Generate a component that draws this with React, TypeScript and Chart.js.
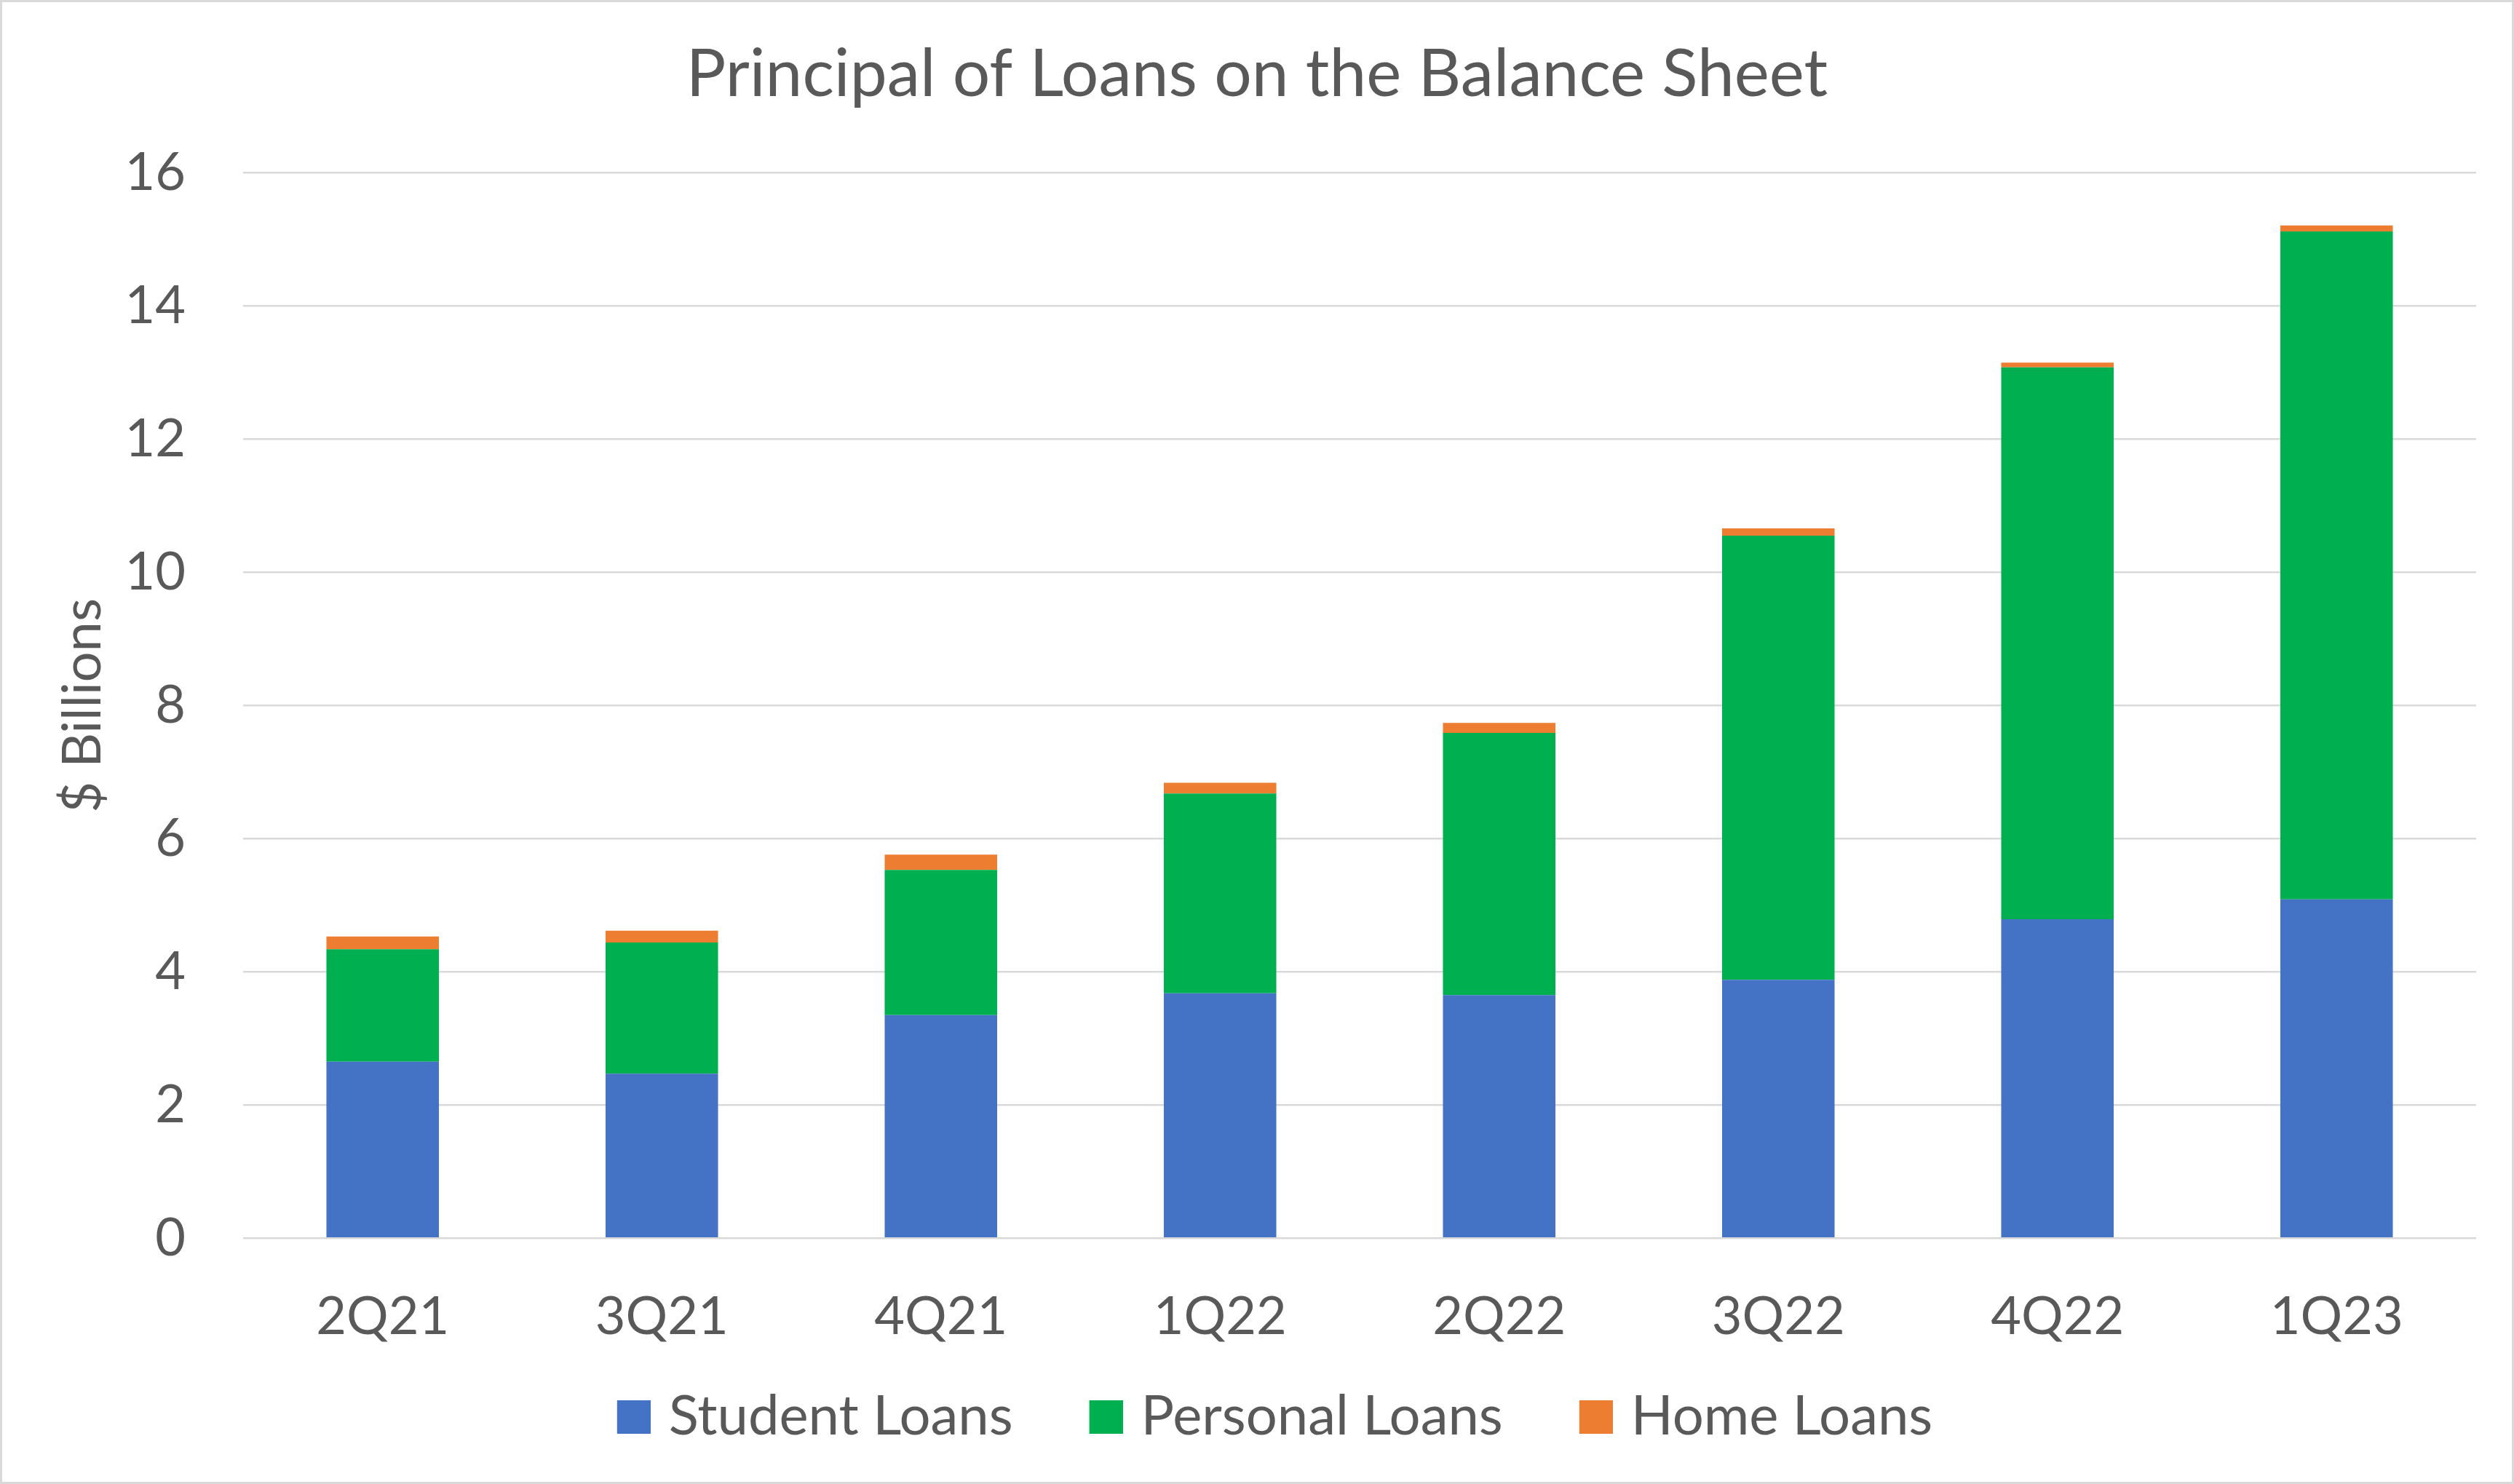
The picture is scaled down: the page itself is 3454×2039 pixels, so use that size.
import React, { useEffect, useRef } from "react";
import { Chart, registerables } from "chart.js";

Chart.register(...registerables);

const categories = ["2Q21", "3Q21", "4Q21", "1Q22", "2Q22", "3Q22", "4Q22", "1Q23"];
const studentLoans = [2.65, 2.47, 3.35, 3.68, 3.65, 3.88, 4.79, 5.09];
const personalLoans = [1.69, 1.97, 2.18, 3.0, 3.94, 6.67, 8.29, 10.03];
const homeLoans = [0.19, 0.18, 0.23, 0.16, 0.15, 0.11, 0.07, 0.09];
const yTicks = [0, 2, 4, 6, 8, 10, 12, 14, 16];
const seriesColors = ["#4472C4", "#00B050", "#ED7D31"];

const W = 3454;
const H = 2039;
const TEXT = "#595959";
const FONT = "Lato, 'Open Sans', sans-serif";

// legend swatch: square placed at the right of a transparent strip so spacing matches
function makeSwatch(color: string): HTMLCanvasElement {
  const c = document.createElement("canvas");
  c.width = 108;
  c.height = 46;
  const ctx = c.getContext("2d")!;
  ctx.fillStyle = color;
  ctx.fillRect(62, 0, 46, 46);
  return c;
}

export default function App() {
  const ref = useRef<HTMLCanvasElement | null>(null);

  useEffect(() => {
    if (!ref.current) return;
    const swatches = seriesColors.map(makeSwatch);
    const chart = new Chart(ref.current, {
      type: "bar",
      data: {
        labels: categories,
        datasets: [
          { label: "Student Loans", data: studentLoans, backgroundColor: seriesColors[0] },
          { label: "Personal Loans", data: personalLoans, backgroundColor: seriesColors[1] },
          { label: "Home Loans", data: homeLoans, backgroundColor: seriesColors[2] },
        ],
      },
      options: {
        animation: false,
        responsive: true,
        maintainAspectRatio: false,
        devicePixelRatio: 1,
        layout: { padding: { left: 0, right: 0, top: 0, bottom: 44.5 } },
        datasets: {
          bar: { barPercentage: 0.403, categoryPercentage: 1 },
        },
        plugins: {
          title: {
            display: true,
            text: "Principal of Loans on the Balance Sheet",
            color: TEXT,
            font: { family: FONT, size: 91, weight: "normal", lineHeight: 1.2 },
            padding: { top: 48, bottom: 80.3 },
          },
          legend: {
            display: true,
            position: "bottom",
            labels: {
              color: TEXT,
              font: { family: FONT, size: 76 },
              usePointStyle: true,
              pointStyleWidth: 82,
              boxHeight: 46,
              padding: 56,
              generateLabels: (c: any) => {
                const items = (Chart as any).defaults.plugins.legend.labels.generateLabels(c);
                return items.map((it: any, i: number) => ({ ...it, pointStyle: swatches[i] }));
              },
            },
          },
          tooltip: { enabled: false },
        },
        scales: {
          x: {
            stacked: true,
            grid: { display: false, drawTicks: false },
            border: { display: false },
            ticks: {
              color: TEXT,
              font: { family: FONT, size: 72 },
              padding: 65,
            },
            afterFit: (scale: any) => {
              scale.height = 151.2;
            },
          },
          y: {
            stacked: true,
            min: 0,
            max: 16,
            grid: { color: "#d9d9d9", lineWidth: 2.5, drawTicks: false },
            border: { display: false },
            afterBuildTicks: (scale: any) => {
              scale.ticks = yTicks.map((v) => ({ value: v }));
            },
            ticks: {
              color: TEXT,
              font: { family: FONT, size: 72 },
              padding: 79,
            },
            title: {
              display: true,
              text: "$ Billions",
              color: TEXT,
              font: { family: FONT, size: 74, lineHeight: 1.2 },
              padding: { top: 70, bottom: 0 },
            },
            afterFit: (scale: any) => {
              scale.width = 334;
            },
          },
          yRight: {
            position: "right",
            display: true,
            grid: { display: false, drawTicks: false },
            border: { display: false },
            ticks: { display: false },
            afterFit: (scale: any) => {
              scale.width = 52;
            },
          },
        },
      },
    });
    return () => chart.destroy();
  }, []);

  return (
    <>
      <style>{`body{margin:0;background:#fff;}`}</style>
      <div style={{ position: "relative", width: W, height: H, background: "#fff" }}>
        <canvas ref={ref} />
        <div
          style={{
            position: "absolute",
            left: 0,
            top: 0,
            width: W,
            height: H,
            boxSizing: "border-box",
            border: "3px solid #d9d9d9",
            pointerEvents: "none",
          }}
        />
      </div>
    </>
  );
}
